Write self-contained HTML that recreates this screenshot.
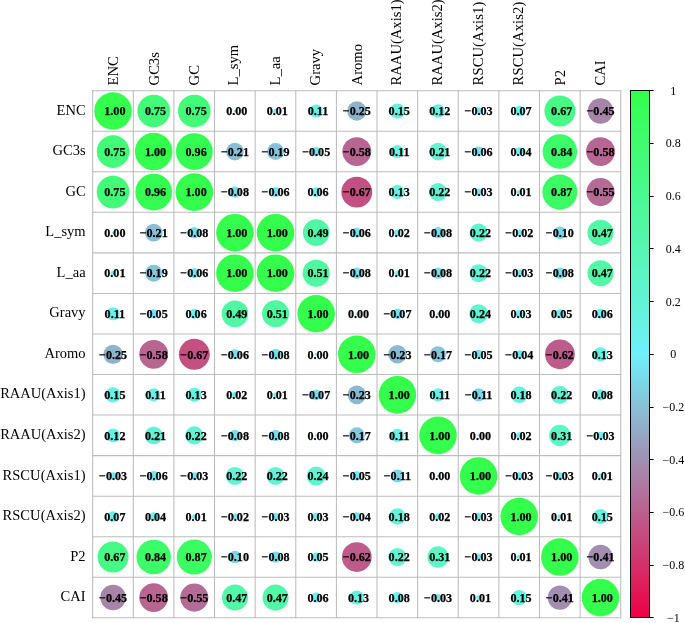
<!DOCTYPE html>
<html lang="en"><head><meta charset="utf-8"><title>Correlation plot</title>
<style>html,body{margin:0;padding:0;background:#fff}body{width:685px;height:623px;overflow:hidden}svg{display:block}text{font-family:"Liberation Serif","Times New Roman",serif;fill:#000}.v{font-size:12.1px;font-weight:bold;text-anchor:middle;stroke:#000;stroke-width:0.25px}.l{font-size:14.5px}.t{font-size:14.6px}.r{text-anchor:end}.c{font-size:12px;text-anchor:middle}</style></head><body>
<svg width="685" height="623" viewBox="0 0 685 623">
<rect width="685" height="623" fill="#fff"/>
<g>
<circle cx="113.07" cy="111.01" r="18.78" fill="#33ff4c"/>
<circle cx="153.69" cy="111.01" r="16.33" fill="#42fb78"/>
<circle cx="194.31" cy="111.01" r="16.33" fill="#42fb78"/>
<circle cx="234.93" cy="111.01" r="1.21" fill="#6ef0fa"/>
<circle cx="275.55" cy="111.01" r="2.33" fill="#6df0f8"/>
<circle cx="316.17" cy="111.01" r="6.56" fill="#68f2e7"/>
<circle cx="356.79" cy="111.01" r="9.64" fill="#8eb4cd"/>
<circle cx="397.41" cy="111.01" r="7.58" fill="#65f2e0"/>
<circle cx="438.03" cy="111.01" r="6.83" fill="#67f2e5"/>
<circle cx="478.65" cy="111.01" r="3.67" fill="#72e9f5"/>
<circle cx="519.27" cy="111.01" r="5.34" fill="#6af1ee"/>
<circle cx="559.89" cy="111.01" r="15.46" fill="#46fa85"/>
<circle cx="600.51" cy="111.01" r="12.76" fill="#a884a9"/>
<circle cx="113.07" cy="151.56" r="16.33" fill="#42fb78"/>
<circle cx="153.69" cy="151.56" r="18.78" fill="#33ff4c"/>
<circle cx="194.31" cy="151.56" r="18.41" fill="#35fe53"/>
<circle cx="234.93" cy="151.56" r="8.88" fill="#89bed4"/>
<circle cx="275.55" cy="151.56" r="8.47" fill="#86c2d8"/>
<circle cx="316.17" cy="151.56" r="4.59" fill="#74e4f1"/>
<circle cx="356.79" cy="151.56" r="14.42" fill="#b86592"/>
<circle cx="397.41" cy="151.56" r="6.56" fill="#68f2e7"/>
<circle cx="438.03" cy="151.56" r="8.88" fill="#62f3d5"/>
<circle cx="478.65" cy="151.56" r="4.98" fill="#76e2ef"/>
<circle cx="519.27" cy="151.56" r="4.16" fill="#6cf1f3"/>
<circle cx="559.89" cy="151.56" r="17.25" fill="#3cfd68"/>
<circle cx="600.51" cy="151.56" r="14.42" fill="#b86592"/>
<circle cx="113.07" cy="192.11" r="16.33" fill="#42fb78"/>
<circle cx="153.69" cy="192.11" r="18.41" fill="#35fe53"/>
<circle cx="194.31" cy="192.11" r="18.78" fill="#33ff4c"/>
<circle cx="234.93" cy="192.11" r="5.67" fill="#78ddec"/>
<circle cx="275.55" cy="192.11" r="4.98" fill="#76e2ef"/>
<circle cx="316.17" cy="192.11" r="4.98" fill="#6af1f0"/>
<circle cx="356.79" cy="192.11" r="15.46" fill="#c44f81"/>
<circle cx="397.41" cy="192.11" r="7.09" fill="#66f2e3"/>
<circle cx="438.03" cy="192.11" r="9.07" fill="#61f3d4"/>
<circle cx="478.65" cy="192.11" r="3.67" fill="#72e9f5"/>
<circle cx="519.27" cy="192.11" r="2.33" fill="#6df0f8"/>
<circle cx="559.89" cy="192.11" r="17.55" fill="#3bfd63"/>
<circle cx="600.51" cy="192.11" r="14.06" fill="#b46c97"/>
<circle cx="113.07" cy="232.66" r="1.21" fill="#6ef0fa"/>
<circle cx="153.69" cy="232.66" r="8.88" fill="#89bed4"/>
<circle cx="194.31" cy="232.66" r="5.67" fill="#78ddec"/>
<circle cx="234.93" cy="232.66" r="18.78" fill="#33ff4c"/>
<circle cx="275.55" cy="232.66" r="18.78" fill="#33ff4c"/>
<circle cx="316.17" cy="232.66" r="13.30" fill="#51f7a5"/>
<circle cx="356.79" cy="232.66" r="4.98" fill="#76e2ef"/>
<circle cx="397.41" cy="232.66" r="3.09" fill="#6df0f7"/>
<circle cx="438.03" cy="232.66" r="5.67" fill="#78ddec"/>
<circle cx="478.65" cy="232.66" r="9.07" fill="#61f3d4"/>
<circle cx="519.27" cy="232.66" r="3.09" fill="#71ebf6"/>
<circle cx="559.89" cy="232.66" r="6.28" fill="#7bd8e8"/>
<circle cx="600.51" cy="232.66" r="13.03" fill="#52f7a8"/>
<circle cx="113.07" cy="273.20" r="2.33" fill="#6df0f8"/>
<circle cx="153.69" cy="273.20" r="8.47" fill="#86c2d8"/>
<circle cx="194.31" cy="273.20" r="4.98" fill="#76e2ef"/>
<circle cx="234.93" cy="273.20" r="18.78" fill="#33ff4c"/>
<circle cx="275.55" cy="273.20" r="18.78" fill="#33ff4c"/>
<circle cx="316.17" cy="273.20" r="13.55" fill="#50f8a1"/>
<circle cx="356.79" cy="273.20" r="5.67" fill="#78ddec"/>
<circle cx="397.41" cy="273.20" r="2.33" fill="#6df0f8"/>
<circle cx="438.03" cy="273.20" r="5.67" fill="#78ddec"/>
<circle cx="478.65" cy="273.20" r="9.07" fill="#61f3d4"/>
<circle cx="519.27" cy="273.20" r="3.67" fill="#72e9f5"/>
<circle cx="559.89" cy="273.20" r="5.67" fill="#78ddec"/>
<circle cx="600.51" cy="273.20" r="13.03" fill="#52f7a8"/>
<circle cx="113.07" cy="313.75" r="6.56" fill="#68f2e7"/>
<circle cx="153.69" cy="313.75" r="4.59" fill="#74e4f1"/>
<circle cx="194.31" cy="313.75" r="4.98" fill="#6af1f0"/>
<circle cx="234.93" cy="313.75" r="13.30" fill="#51f7a5"/>
<circle cx="275.55" cy="313.75" r="13.55" fill="#50f8a1"/>
<circle cx="316.17" cy="313.75" r="18.78" fill="#33ff4c"/>
<circle cx="356.79" cy="313.75" r="1.21" fill="#6ef0fa"/>
<circle cx="397.41" cy="313.75" r="5.34" fill="#77dfed"/>
<circle cx="438.03" cy="313.75" r="1.21" fill="#6ef0fa"/>
<circle cx="478.65" cy="313.75" r="9.45" fill="#60f4d0"/>
<circle cx="519.27" cy="313.75" r="3.67" fill="#6cf0f5"/>
<circle cx="559.89" cy="313.75" r="4.59" fill="#6bf1f1"/>
<circle cx="600.51" cy="313.75" r="4.98" fill="#6af1f0"/>
<circle cx="113.07" cy="354.31" r="9.64" fill="#8eb4cd"/>
<circle cx="153.69" cy="354.31" r="14.42" fill="#b86592"/>
<circle cx="194.31" cy="354.31" r="15.46" fill="#c44f81"/>
<circle cx="234.93" cy="354.31" r="4.98" fill="#76e2ef"/>
<circle cx="275.55" cy="354.31" r="5.67" fill="#78ddec"/>
<circle cx="316.17" cy="354.31" r="1.21" fill="#6ef0fa"/>
<circle cx="356.79" cy="354.31" r="18.78" fill="#33ff4c"/>
<circle cx="397.41" cy="354.31" r="9.27" fill="#8bb9d1"/>
<circle cx="438.03" cy="354.31" r="8.04" fill="#84c7db"/>
<circle cx="478.65" cy="354.31" r="4.59" fill="#74e4f1"/>
<circle cx="519.27" cy="354.31" r="4.16" fill="#73e6f3"/>
<circle cx="559.89" cy="354.31" r="14.89" fill="#bd5b8a"/>
<circle cx="600.51" cy="354.31" r="7.09" fill="#66f2e3"/>
<circle cx="113.07" cy="394.86" r="7.58" fill="#65f2e0"/>
<circle cx="153.69" cy="394.86" r="6.56" fill="#68f2e7"/>
<circle cx="194.31" cy="394.86" r="7.09" fill="#66f2e3"/>
<circle cx="234.93" cy="394.86" r="3.09" fill="#6df0f7"/>
<circle cx="275.55" cy="394.86" r="2.33" fill="#6df0f8"/>
<circle cx="316.17" cy="394.86" r="5.34" fill="#77dfed"/>
<circle cx="356.79" cy="394.86" r="9.27" fill="#8bb9d1"/>
<circle cx="397.41" cy="394.86" r="18.78" fill="#33ff4c"/>
<circle cx="438.03" cy="394.86" r="6.56" fill="#68f2e7"/>
<circle cx="478.65" cy="394.86" r="6.56" fill="#7cd6e6"/>
<circle cx="519.27" cy="394.86" r="8.26" fill="#63f3db"/>
<circle cx="559.89" cy="394.86" r="9.07" fill="#61f3d4"/>
<circle cx="600.51" cy="394.86" r="5.67" fill="#69f1ec"/>
<circle cx="113.07" cy="435.40" r="6.83" fill="#67f2e5"/>
<circle cx="153.69" cy="435.40" r="8.88" fill="#62f3d5"/>
<circle cx="194.31" cy="435.40" r="9.07" fill="#61f3d4"/>
<circle cx="234.93" cy="435.40" r="5.67" fill="#78ddec"/>
<circle cx="275.55" cy="435.40" r="5.67" fill="#78ddec"/>
<circle cx="316.17" cy="435.40" r="1.21" fill="#6ef0fa"/>
<circle cx="356.79" cy="435.40" r="8.04" fill="#84c7db"/>
<circle cx="397.41" cy="435.40" r="6.56" fill="#68f2e7"/>
<circle cx="438.03" cy="435.40" r="18.78" fill="#33ff4c"/>
<circle cx="478.65" cy="435.40" r="1.21" fill="#6ef0fa"/>
<circle cx="519.27" cy="435.40" r="3.09" fill="#6df0f7"/>
<circle cx="559.89" cy="435.40" r="10.68" fill="#5cf5c4"/>
<circle cx="600.51" cy="435.40" r="3.67" fill="#72e9f5"/>
<circle cx="113.07" cy="475.95" r="3.67" fill="#72e9f5"/>
<circle cx="153.69" cy="475.95" r="4.98" fill="#76e2ef"/>
<circle cx="194.31" cy="475.95" r="3.67" fill="#72e9f5"/>
<circle cx="234.93" cy="475.95" r="9.07" fill="#61f3d4"/>
<circle cx="275.55" cy="475.95" r="9.07" fill="#61f3d4"/>
<circle cx="316.17" cy="475.95" r="9.45" fill="#60f4d0"/>
<circle cx="356.79" cy="475.95" r="4.59" fill="#74e4f1"/>
<circle cx="397.41" cy="475.95" r="6.56" fill="#7cd6e6"/>
<circle cx="438.03" cy="475.95" r="1.21" fill="#6ef0fa"/>
<circle cx="478.65" cy="475.95" r="18.78" fill="#33ff4c"/>
<circle cx="519.27" cy="475.95" r="3.67" fill="#72e9f5"/>
<circle cx="559.89" cy="475.95" r="3.67" fill="#72e9f5"/>
<circle cx="600.51" cy="475.95" r="2.33" fill="#6df0f8"/>
<circle cx="113.07" cy="516.50" r="5.34" fill="#6af1ee"/>
<circle cx="153.69" cy="516.50" r="4.16" fill="#6cf1f3"/>
<circle cx="194.31" cy="516.50" r="2.33" fill="#6df0f8"/>
<circle cx="234.93" cy="516.50" r="3.09" fill="#71ebf6"/>
<circle cx="275.55" cy="516.50" r="3.67" fill="#72e9f5"/>
<circle cx="316.17" cy="516.50" r="3.67" fill="#6cf0f5"/>
<circle cx="356.79" cy="516.50" r="4.16" fill="#73e6f3"/>
<circle cx="397.41" cy="516.50" r="8.26" fill="#63f3db"/>
<circle cx="438.03" cy="516.50" r="3.09" fill="#6df0f7"/>
<circle cx="478.65" cy="516.50" r="3.67" fill="#72e9f5"/>
<circle cx="519.27" cy="516.50" r="18.78" fill="#33ff4c"/>
<circle cx="559.89" cy="516.50" r="2.33" fill="#6df0f8"/>
<circle cx="600.51" cy="516.50" r="7.58" fill="#65f2e0"/>
<circle cx="113.07" cy="557.05" r="15.46" fill="#46fa85"/>
<circle cx="153.69" cy="557.05" r="17.25" fill="#3cfd68"/>
<circle cx="194.31" cy="557.05" r="17.55" fill="#3bfd63"/>
<circle cx="234.93" cy="557.05" r="6.28" fill="#7bd8e8"/>
<circle cx="275.55" cy="557.05" r="5.67" fill="#78ddec"/>
<circle cx="316.17" cy="557.05" r="4.59" fill="#6bf1f1"/>
<circle cx="356.79" cy="557.05" r="14.89" fill="#bd5b8a"/>
<circle cx="397.41" cy="557.05" r="9.07" fill="#61f3d4"/>
<circle cx="438.03" cy="557.05" r="10.68" fill="#5cf5c4"/>
<circle cx="478.65" cy="557.05" r="3.67" fill="#72e9f5"/>
<circle cx="519.27" cy="557.05" r="2.33" fill="#6df0f8"/>
<circle cx="559.89" cy="557.05" r="18.78" fill="#33ff4c"/>
<circle cx="600.51" cy="557.05" r="12.20" fill="#a28eb0"/>
<circle cx="113.07" cy="597.60" r="12.76" fill="#a884a9"/>
<circle cx="153.69" cy="597.60" r="14.42" fill="#b86592"/>
<circle cx="194.31" cy="597.60" r="14.06" fill="#b46c97"/>
<circle cx="234.93" cy="597.60" r="13.03" fill="#52f7a8"/>
<circle cx="275.55" cy="597.60" r="13.03" fill="#52f7a8"/>
<circle cx="316.17" cy="597.60" r="4.98" fill="#6af1f0"/>
<circle cx="356.79" cy="597.60" r="7.09" fill="#66f2e3"/>
<circle cx="397.41" cy="597.60" r="5.67" fill="#69f1ec"/>
<circle cx="438.03" cy="597.60" r="3.67" fill="#72e9f5"/>
<circle cx="478.65" cy="597.60" r="2.33" fill="#6df0f8"/>
<circle cx="519.27" cy="597.60" r="7.58" fill="#65f2e0"/>
<circle cx="559.89" cy="597.60" r="12.20" fill="#a28eb0"/>
<circle cx="600.51" cy="597.60" r="18.78" fill="#33ff4c"/>
</g>
<g stroke="#bcbcbc" stroke-width="1.05" fill="none">
<line x1="92.68" y1="90.18" x2="92.68" y2="618.33"/>
<line x1="92.18" y1="90.68" x2="621.24" y2="90.68"/>
<line x1="133.30" y1="90.18" x2="133.30" y2="618.33"/>
<line x1="92.18" y1="131.23" x2="621.24" y2="131.23"/>
<line x1="173.92" y1="90.18" x2="173.92" y2="618.33"/>
<line x1="92.18" y1="171.78" x2="621.24" y2="171.78"/>
<line x1="214.54" y1="90.18" x2="214.54" y2="618.33"/>
<line x1="92.18" y1="212.33" x2="621.24" y2="212.33"/>
<line x1="255.16" y1="90.18" x2="255.16" y2="618.33"/>
<line x1="92.18" y1="252.88" x2="621.24" y2="252.88"/>
<line x1="295.78" y1="90.18" x2="295.78" y2="618.33"/>
<line x1="92.18" y1="293.43" x2="621.24" y2="293.43"/>
<line x1="336.40" y1="90.18" x2="336.40" y2="618.33"/>
<line x1="92.18" y1="333.98" x2="621.24" y2="333.98"/>
<line x1="377.02" y1="90.18" x2="377.02" y2="618.33"/>
<line x1="92.18" y1="374.53" x2="621.24" y2="374.53"/>
<line x1="417.64" y1="90.18" x2="417.64" y2="618.33"/>
<line x1="92.18" y1="415.08" x2="621.24" y2="415.08"/>
<line x1="458.26" y1="90.18" x2="458.26" y2="618.33"/>
<line x1="92.18" y1="455.63" x2="621.24" y2="455.63"/>
<line x1="498.88" y1="90.18" x2="498.88" y2="618.33"/>
<line x1="92.18" y1="496.18" x2="621.24" y2="496.18"/>
<line x1="539.50" y1="90.18" x2="539.50" y2="618.33"/>
<line x1="92.18" y1="536.73" x2="621.24" y2="536.73"/>
<line x1="580.12" y1="90.18" x2="580.12" y2="618.33"/>
<line x1="92.18" y1="577.28" x2="621.24" y2="577.28"/>
<line x1="620.74" y1="90.18" x2="620.74" y2="618.33"/>
<line x1="92.18" y1="617.83" x2="621.24" y2="617.83"/>
</g>
<g class="v">
<text x="114.87" y="115.26">1.00</text>
<text x="155.49" y="115.26">0.75</text>
<text x="196.11" y="115.26">0.75</text>
<text x="236.73" y="115.26">0.00</text>
<text x="277.35" y="115.26">0.01</text>
<text x="317.97" y="115.26">0.11</text>
<text x="356.79" y="115.26">−0.25</text>
<text x="399.21" y="115.26">0.15</text>
<text x="439.83" y="115.26">0.12</text>
<text x="478.65" y="115.26">−0.03</text>
<text x="521.07" y="115.26">0.07</text>
<text x="561.69" y="115.26">0.67</text>
<text x="600.51" y="115.26">−0.45</text>
<text x="114.87" y="155.81">0.75</text>
<text x="155.49" y="155.81">1.00</text>
<text x="196.11" y="155.81">0.96</text>
<text x="234.93" y="155.81">−0.21</text>
<text x="275.55" y="155.81">−0.19</text>
<text x="316.17" y="155.81">−0.05</text>
<text x="356.79" y="155.81">−0.58</text>
<text x="399.21" y="155.81">0.11</text>
<text x="439.83" y="155.81">0.21</text>
<text x="478.65" y="155.81">−0.06</text>
<text x="521.07" y="155.81">0.04</text>
<text x="561.69" y="155.81">0.84</text>
<text x="600.51" y="155.81">−0.58</text>
<text x="114.87" y="196.36">0.75</text>
<text x="155.49" y="196.36">0.96</text>
<text x="196.11" y="196.36">1.00</text>
<text x="234.93" y="196.36">−0.08</text>
<text x="275.55" y="196.36">−0.06</text>
<text x="317.97" y="196.36">0.06</text>
<text x="356.79" y="196.36">−0.67</text>
<text x="399.21" y="196.36">0.13</text>
<text x="439.83" y="196.36">0.22</text>
<text x="478.65" y="196.36">−0.03</text>
<text x="521.07" y="196.36">0.01</text>
<text x="561.69" y="196.36">0.87</text>
<text x="600.51" y="196.36">−0.55</text>
<text x="114.87" y="236.91">0.00</text>
<text x="153.69" y="236.91">−0.21</text>
<text x="194.31" y="236.91">−0.08</text>
<text x="236.73" y="236.91">1.00</text>
<text x="277.35" y="236.91">1.00</text>
<text x="317.97" y="236.91">0.49</text>
<text x="356.79" y="236.91">−0.06</text>
<text x="399.21" y="236.91">0.02</text>
<text x="438.03" y="236.91">−0.08</text>
<text x="480.45" y="236.91">0.22</text>
<text x="519.27" y="236.91">−0.02</text>
<text x="559.89" y="236.91">−0.10</text>
<text x="602.31" y="236.91">0.47</text>
<text x="114.87" y="277.45">0.01</text>
<text x="153.69" y="277.45">−0.19</text>
<text x="194.31" y="277.45">−0.06</text>
<text x="236.73" y="277.45">1.00</text>
<text x="277.35" y="277.45">1.00</text>
<text x="317.97" y="277.45">0.51</text>
<text x="356.79" y="277.45">−0.08</text>
<text x="399.21" y="277.45">0.01</text>
<text x="438.03" y="277.45">−0.08</text>
<text x="480.45" y="277.45">0.22</text>
<text x="519.27" y="277.45">−0.03</text>
<text x="559.89" y="277.45">−0.08</text>
<text x="602.31" y="277.45">0.47</text>
<text x="114.87" y="318.00">0.11</text>
<text x="153.69" y="318.00">−0.05</text>
<text x="196.11" y="318.00">0.06</text>
<text x="236.73" y="318.00">0.49</text>
<text x="277.35" y="318.00">0.51</text>
<text x="317.97" y="318.00">1.00</text>
<text x="358.59" y="318.00">0.00</text>
<text x="397.41" y="318.00">−0.07</text>
<text x="439.83" y="318.00">0.00</text>
<text x="480.45" y="318.00">0.24</text>
<text x="521.07" y="318.00">0.03</text>
<text x="561.69" y="318.00">0.05</text>
<text x="602.31" y="318.00">0.06</text>
<text x="113.07" y="358.56">−0.25</text>
<text x="153.69" y="358.56">−0.58</text>
<text x="194.31" y="358.56">−0.67</text>
<text x="234.93" y="358.56">−0.06</text>
<text x="275.55" y="358.56">−0.08</text>
<text x="317.97" y="358.56">0.00</text>
<text x="358.59" y="358.56">1.00</text>
<text x="397.41" y="358.56">−0.23</text>
<text x="438.03" y="358.56">−0.17</text>
<text x="478.65" y="358.56">−0.05</text>
<text x="519.27" y="358.56">−0.04</text>
<text x="559.89" y="358.56">−0.62</text>
<text x="602.31" y="358.56">0.13</text>
<text x="114.87" y="399.11">0.15</text>
<text x="155.49" y="399.11">0.11</text>
<text x="196.11" y="399.11">0.13</text>
<text x="236.73" y="399.11">0.02</text>
<text x="277.35" y="399.11">0.01</text>
<text x="316.17" y="399.11">−0.07</text>
<text x="356.79" y="399.11">−0.23</text>
<text x="399.21" y="399.11">1.00</text>
<text x="439.83" y="399.11">0.11</text>
<text x="478.65" y="399.11">−0.11</text>
<text x="521.07" y="399.11">0.18</text>
<text x="561.69" y="399.11">0.22</text>
<text x="602.31" y="399.11">0.08</text>
<text x="114.87" y="439.65">0.12</text>
<text x="155.49" y="439.65">0.21</text>
<text x="196.11" y="439.65">0.22</text>
<text x="234.93" y="439.65">−0.08</text>
<text x="275.55" y="439.65">−0.08</text>
<text x="317.97" y="439.65">0.00</text>
<text x="356.79" y="439.65">−0.17</text>
<text x="399.21" y="439.65">0.11</text>
<text x="439.83" y="439.65">1.00</text>
<text x="480.45" y="439.65">0.00</text>
<text x="521.07" y="439.65">0.02</text>
<text x="561.69" y="439.65">0.31</text>
<text x="600.51" y="439.65">−0.03</text>
<text x="113.07" y="480.20">−0.03</text>
<text x="153.69" y="480.20">−0.06</text>
<text x="194.31" y="480.20">−0.03</text>
<text x="236.73" y="480.20">0.22</text>
<text x="277.35" y="480.20">0.22</text>
<text x="317.97" y="480.20">0.24</text>
<text x="356.79" y="480.20">−0.05</text>
<text x="397.41" y="480.20">−0.11</text>
<text x="439.83" y="480.20">0.00</text>
<text x="480.45" y="480.20">1.00</text>
<text x="519.27" y="480.20">−0.03</text>
<text x="559.89" y="480.20">−0.03</text>
<text x="602.31" y="480.20">0.01</text>
<text x="114.87" y="520.75">0.07</text>
<text x="155.49" y="520.75">0.04</text>
<text x="196.11" y="520.75">0.01</text>
<text x="234.93" y="520.75">−0.02</text>
<text x="275.55" y="520.75">−0.03</text>
<text x="317.97" y="520.75">0.03</text>
<text x="356.79" y="520.75">−0.04</text>
<text x="399.21" y="520.75">0.18</text>
<text x="439.83" y="520.75">0.02</text>
<text x="478.65" y="520.75">−0.03</text>
<text x="521.07" y="520.75">1.00</text>
<text x="561.69" y="520.75">0.01</text>
<text x="602.31" y="520.75">0.15</text>
<text x="114.87" y="561.30">0.67</text>
<text x="155.49" y="561.30">0.84</text>
<text x="196.11" y="561.30">0.87</text>
<text x="234.93" y="561.30">−0.10</text>
<text x="275.55" y="561.30">−0.08</text>
<text x="317.97" y="561.30">0.05</text>
<text x="356.79" y="561.30">−0.62</text>
<text x="399.21" y="561.30">0.22</text>
<text x="439.83" y="561.30">0.31</text>
<text x="478.65" y="561.30">−0.03</text>
<text x="521.07" y="561.30">0.01</text>
<text x="561.69" y="561.30">1.00</text>
<text x="600.51" y="561.30">−0.41</text>
<text x="113.07" y="601.85">−0.45</text>
<text x="153.69" y="601.85">−0.58</text>
<text x="194.31" y="601.85">−0.55</text>
<text x="236.73" y="601.85">0.47</text>
<text x="277.35" y="601.85">0.47</text>
<text x="317.97" y="601.85">0.06</text>
<text x="358.59" y="601.85">0.13</text>
<text x="399.21" y="601.85">0.08</text>
<text x="438.03" y="601.85">−0.03</text>
<text x="480.45" y="601.85">0.01</text>
<text x="521.07" y="601.85">0.15</text>
<text x="559.89" y="601.85">−0.41</text>
<text x="602.31" y="601.85">1.00</text>
</g>
<g class="l">
<text class="r" x="85.60" y="114.61">ENC</text>
<text class="r" x="85.60" y="155.16">GC3s</text>
<text class="r" x="85.60" y="195.71">GC</text>
<text class="r" x="85.60" y="236.25">L_sym</text>
<text class="r" x="85.60" y="276.80">L_aa</text>
<text class="r" x="85.60" y="317.35">Gravy</text>
<text class="r" x="85.60" y="357.90">Aromo</text>
<text class="r" x="85.60" y="398.45">RAAU(Axis1)</text>
<text class="r" x="85.60" y="439.00">RAAU(Axis2)</text>
<text class="r" x="85.70" y="479.55" style="letter-spacing:.1px">RSCU(Axis1)</text>
<text class="r" x="85.70" y="520.10" style="letter-spacing:.1px">RSCU(Axis2)</text>
<text class="r" x="85.60" y="560.65">P2</text>
<text class="r" x="85.60" y="601.20">CAI</text>
<text class="t" transform="translate(117.89 85.40) rotate(-90)">ENC</text>
<text class="t" transform="translate(158.51 85.40) rotate(-90)">GC3s</text>
<text class="t" transform="translate(199.13 85.40) rotate(-90)">GC</text>
<text class="t" transform="translate(238.35 85.40) rotate(-90)">L_sym</text>
<text class="t" transform="translate(279.77 85.40) rotate(-90)">L_aa</text>
<text class="t" transform="translate(320.19 85.40) rotate(-90)">Gravy</text>
<text class="t" transform="translate(361.61 85.40) rotate(-90)">Aromo</text>
<text class="t" transform="translate(401.43 85.40) rotate(-90)">RAAU(Axis1)</text>
<text class="t" transform="translate(442.05 85.40) rotate(-90)">RAAU(Axis2)</text>
<text class="t" transform="translate(482.67 85.40) rotate(-90)" style="letter-spacing:.1px">RSCU(Axis1)</text>
<text class="t" transform="translate(523.29 85.40) rotate(-90)" style="letter-spacing:.1px">RSCU(Axis2)</text>
<text class="t" transform="translate(564.71 85.40) rotate(-90)">P2</text>
<text class="t" transform="translate(605.33 85.40) rotate(-90)">CAI</text>
</g>
<defs><linearGradient id="cb" x1="0" y1="0" x2="0" y2="1"><stop offset="0" stop-color="#33ff4c"/><stop offset="0.5" stop-color="#6ef0fa"/><stop offset="1" stop-color="#ee0046"/></linearGradient></defs>
<rect x="630.50" y="90.50" width="19.00" height="527.00" fill="url(#cb)" stroke="#000" stroke-width="1"/>
<g stroke="#000" stroke-width="1">
<line x1="649.50" y1="90.50" x2="653.60" y2="90.50"/>
<line x1="649.50" y1="143.50" x2="653.60" y2="143.50"/>
<line x1="649.50" y1="196.50" x2="653.60" y2="196.50"/>
<line x1="649.50" y1="248.50" x2="653.60" y2="248.50"/>
<line x1="649.50" y1="301.50" x2="653.60" y2="301.50"/>
<line x1="649.50" y1="354.50" x2="653.60" y2="354.50"/>
<line x1="649.50" y1="407.50" x2="653.60" y2="407.50"/>
<line x1="649.50" y1="459.50" x2="653.60" y2="459.50"/>
<line x1="649.50" y1="512.50" x2="653.60" y2="512.50"/>
<line x1="649.50" y1="565.50" x2="653.60" y2="565.50"/>
<line x1="649.50" y1="617.50" x2="653.60" y2="617.50"/>
</g><g class="c">
<text x="673.30" y="94.70">1</text>
<text x="673.30" y="147.41">0.8</text>
<text x="673.30" y="200.12">0.6</text>
<text x="673.30" y="252.83">0.4</text>
<text x="673.30" y="305.54">0.2</text>
<text x="673.30" y="358.25">0</text>
<text x="673.30" y="410.96">−0.2</text>
<text x="673.30" y="463.67">−0.4</text>
<text x="673.30" y="516.38">−0.6</text>
<text x="673.30" y="569.09">−0.8</text>
<text x="673.30" y="621.80">−1</text>
</g>
</svg></body></html>
